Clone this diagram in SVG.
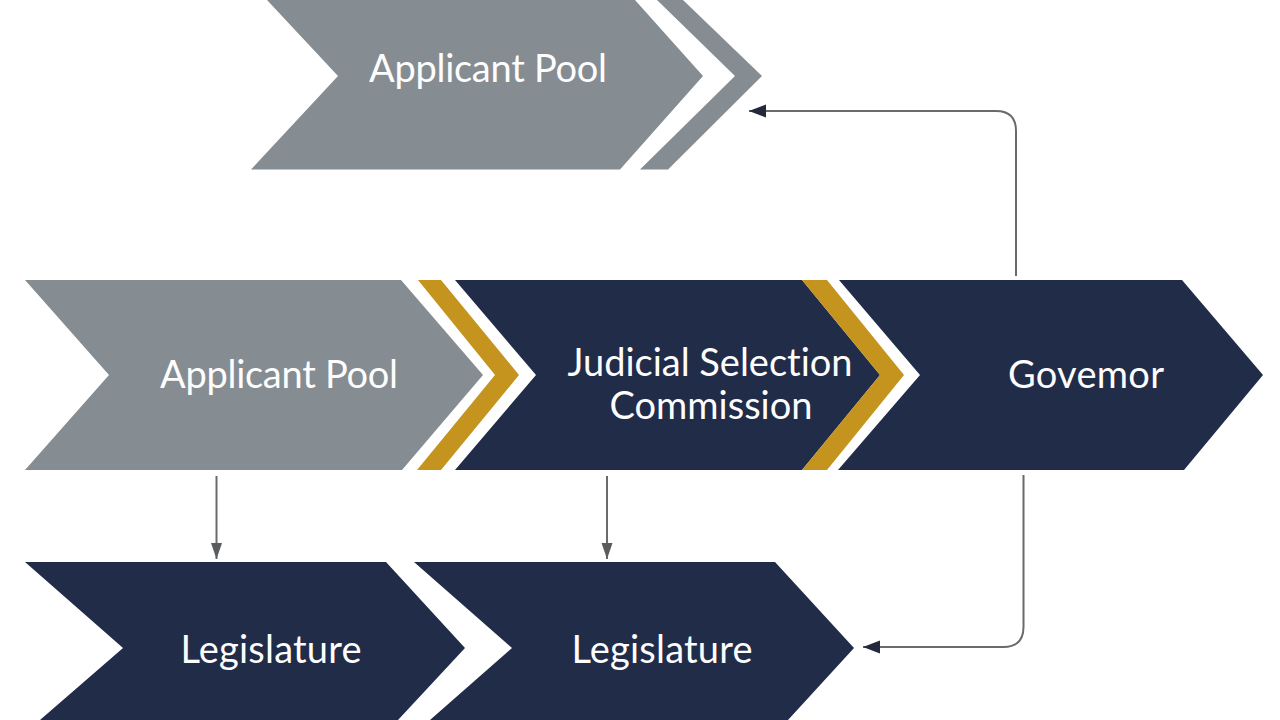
<svg xmlns="http://www.w3.org/2000/svg" width="1280" height="720" viewBox="0 0 1280 720">
<style>
.gray{fill:#858c92}.navy{fill:#212c49}.gold{fill:#c4941f}
text{font-family:Lato,"Open Sans","Liberation Sans",sans-serif;font-size:38px;fill:#fdfdfd;text-anchor:middle;font-variant-ligatures:none}
.conn{fill:none;stroke:#6a6a6a;stroke-width:2}
</style>
<defs>
<marker id="ah" markerUnits="userSpaceOnUse" markerWidth="18" markerHeight="14" refX="16" refY="7" orient="auto"><path d="M0 1.500L16 7L0 12.500Z" fill="#5a5d60"/></marker>
<marker id="ahd" markerUnits="userSpaceOnUse" markerWidth="18" markerHeight="14" refX="17" refY="7" orient="auto"><path d="M0 0.500L17 7L0 13.500Z" fill="#23283a"/></marker>
</defs>
<rect width="1280" height="720" fill="#fff"/>
<g id="node-top-pool">
<polygon class="gray" points="267,0 635,0 703,76 620,169.500 251,169.500 338,76"/>
<polygon class="gray" points="657,0 683,0 762,76 668,169.500 640,169.500 735,76"/>
<text x="488" y="82" textLength="238" lengthAdjust="spacing">Applicant Pool</text>
</g>
<g id="node-mid-pool">
<polygon class="gray" points="25,280 401,280 483,375 402,470 25,470 109,375"/>
<polygon class="gold" points="418,280 441,280 519,375 441,470 417,470 495,375"/>
<text x="279" y="388" textLength="238" lengthAdjust="spacing">Applicant Pool</text>
</g>
<g id="node-commission">
<polygon class="navy" points="455,280 802,280 880,375 802,470 455,470 536,375"/>
<polygon class="gold" points="802,280 827,280 904,375 827,470 802,470 880,375"/>
<text x="710" y="376" textLength="285" lengthAdjust="spacing">Judicial Selection</text>
<text x="711" y="419" textLength="203" lengthAdjust="spacing">Commission</text>
</g>
<g id="node-governor">
<polygon class="navy" points="839,280 1182,280 1263,375 1184,470 838,470 920,375"/>
<text x="1086" y="388" textLength="156" lengthAdjust="spacing">Govemor</text>
</g>
<g id="node-legislature-1">
<polygon class="navy" points="25,562 386,562 465,648 398,720 40,720 123,648"/>
<text x="271" y="663" textLength="181" lengthAdjust="spacing">Legislature</text>
</g>
<g id="node-legislature-2">
<polygon class="navy" points="414,562 775,562 854,648 788,720 430,720 512,648"/>
<text x="662" y="663" textLength="181" lengthAdjust="spacing">Legislature</text>
</g>
<g id="connectors">
<path class="conn" d="M216.500 476V559" marker-end="url(#ah)"/>
<path class="conn" d="M607 476V559" marker-end="url(#ah)"/>
<path class="conn" d="M1016 276V131Q1016 111 996 111H749" marker-end="url(#ahd)"/>
<path class="conn" d="M1023.500 475V627Q1023.500 647 1003.500 647H863" marker-end="url(#ahd)"/>
</g>
</svg>
